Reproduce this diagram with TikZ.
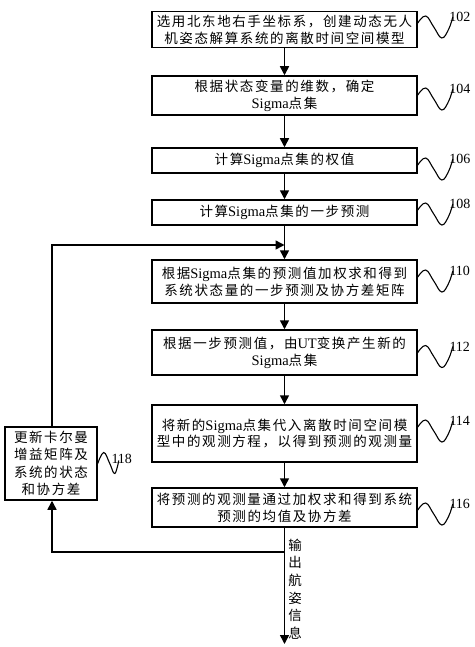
\documentclass[tikz,border=0pt]{standalone}
\usepackage{fontspec}
\setmainfont{Liberation Serif}
\newfontfamily\cjk[LetterSpace=12]{Noto Sans CJK SC}
\newfontfamily\lat{Liberation Serif}
\newcommand\en[1]{{\fontsize{14.5}{17}\lat #1}}
\usetikzlibrary{arrows.meta}
\newcommand\squig[3]{%
  \begin{scope}[shift={(#1)}]
    \draw[squigline] plot[smooth,tension=0.7] coordinates {(0,#2) (8,#2-7) (16,#2+4) (24,#2+15) (31,#2+6) (35,#2-6)};
    \node[lbl] at (42,#2-6) {#3};
  \end{scope}}
\begin{document}
\begin{tikzpicture}[x=1pt,y=-1pt,
  box/.style={draw,line width=1.5pt,minimum width=265pt,inner sep=0pt,align=center,
    font=\fontsize{13.5}{17}\cjk},
  arr/.style={line width=1.5pt,-{Triangle[length=9pt,width=9pt]}},
  ln/.style={line width=1.5pt},
  squigline/.style={line width=1.1pt},
  lbl/.style={font=\fontsize{14}{14}\lat,inner sep=0pt}]
\useasboundingbox (0,0) rectangle (474,647);
\node[box,minimum height=36pt] (b102) at (284.5,29.5) {选用北东地右手坐标系，创建动态无人\\机姿态解算系统的离散时间空间模型};
\node[box,minimum height=39pt] (b104) at (284.5,95.5) {根据状态变量的维数，确定\\\en{Sigma}点集};
\node[box,minimum height=25pt] (b106) at (284.5,160.5) {计算\en{Sigma}点集的权值};
\node[box,minimum height=25pt] (b108) at (284.5,212.5) {计算\en{Sigma}点集的一步预测};
\node[box,minimum height=43pt] (b110) at (284.5,281.5) {根据\en{Sigma}点集的预测值加权求和得到\\系统状态量的一步预测及协方差矩阵};
\node[box,minimum height=45pt] (b112) at (284.5,352.5) {根据一步预测值，由\en{UT}变换产生新的\\\en{Sigma}点集};
\node[box,minimum height=57pt] (b114) at (284.5,433.5) {将新的\en{Sigma}点集代入离散时间空间模\\型中的观测方程，以得到预测的观测量};
\node[box,minimum height=39pt] (b116) at (284.5,507.5) {将预测的观测量通过加权求和得到系统\\预测的均值及协方差};
\node[box,minimum width=92pt,minimum height=73pt,font=\fontsize{13.5}{17.5}\cjk] (b118) at (51,463.5) {更新卡尔曼\\增益矩阵及\\系统的状态\\和协方差};
\node[font=\fontsize{13.5}{17.6}\cjk,align=center,inner sep=0pt] (out) at (295,589) {输\\出\\航\\姿\\信\\息};
\coordinate (end) at (284.5,644);
\coordinate (j1) at (284.5,552);
\coordinate (c1) at (52,552);
\coordinate (c2) at (52,245);
\coordinate (j2) at (284.5,245);
\draw[arr] (b102) -- (b104);
\draw[arr] (b104) -- (b106);
\draw[arr] (b106) -- (b108);
\draw[arr] (b108) -- (b110);
\draw[arr] (b110) -- (b112);
\draw[arr] (b112) -- (b114);
\draw[arr] (b114) -- (b116);
\draw[arr] (b116) -- (end);
\draw[arr] (j1) -- (c1) -- (b118.south -| c1);
\draw[arr] (b118.north -| c2) -- (c2) -- (j2);
\squig{b102.east}{-6.5}{102}
\squig{b104.east}{-0.5}{104}
\squig{b106.east}{4.5}{106}
\squig{b108.east}{-2.5}{108}
\squig{b110.east}{-4.5}{110}
\squig{b112.east}{0}{112}
\squig{b114.east}{-6.5}{114}
\squig{b116.east}{2.5}{116}
\begin{scope}[shift={(b118.east)}]
  \draw[squigline] plot[smooth,tension=0.7] coordinates {(0,0) (6,-11) (12,0) (17,10) (21,-3)};
  \node[lbl] at (24,-5) {118};
\end{scope}
\end{tikzpicture}
\end{document}
